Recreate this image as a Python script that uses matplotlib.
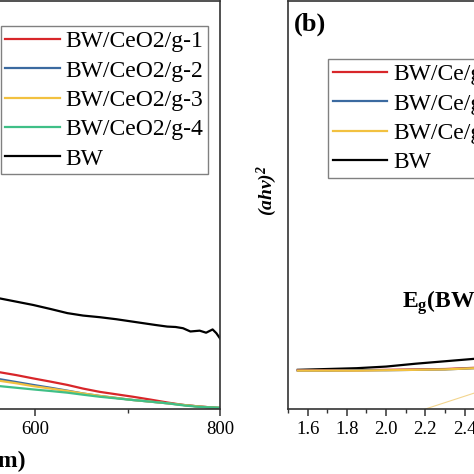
import matplotlib
matplotlib.use('Agg')
import matplotlib.pyplot as plt
from matplotlib.ticker import MultipleLocator, NullLocator

plt.rcParams['font.family'] = ['Liberation Serif', 'DejaVu Serif']
plt.rcParams['mathtext.fontset'] = 'custom'
plt.rcParams['mathtext.rm'] = 'Liberation Serif'
plt.rcParams['mathtext.it'] = 'Liberation Serif:italic'
plt.rcParams['mathtext.bf'] = 'Liberation Serif:bold'
plt.rcParams['mathtext.bfit'] = 'Liberation Serif:italic:bold'

# (a) UV-vis absorbance, only the 550-800 nm tail is in view
wl_bw = [550, 562, 580, 598, 617, 635, 652, 670, 688, 706, 730, 743,
         752, 760, 768, 778, 785, 792, 796, 800]
abs_bw = [0.276, 0.271, 0.263, 0.255, 0.245, 0.235, 0.229, 0.225, 0.220,
          0.214, 0.206, 0.202, 0.201, 0.198, 0.190, 0.192, 0.187, 0.195,
          0.186, 0.173]
wl_c = [550, 562, 580, 598, 617, 635, 652, 670, 688, 706, 725, 743, 760,
        778, 790, 800]
abs_g1 = [0.095, 0.090, 0.083, 0.075, 0.067, 0.059, 0.050, 0.042, 0.036,
          0.030, 0.023, 0.016, 0.010, 0.006, 0.004, 0.002]
abs_g2 = [0.078, 0.073, 0.066, 0.059, 0.052, 0.045, 0.038, 0.032, 0.027,
          0.022, 0.018, 0.014, 0.010, 0.006, 0.004, 0.003]
abs_g3 = [0.074, 0.069, 0.063, 0.056, 0.050, 0.044, 0.038, 0.032, 0.027,
          0.022, 0.018, 0.014, 0.010, 0.006, 0.004, 0.003]
abs_g4 = [0.059, 0.056, 0.052, 0.048, 0.044, 0.040, 0.035, 0.030, 0.026,
          0.022, 0.018, 0.014, 0.009, 0.005, 0.004, 0.003]

# (b) Tauc plot
ev = [1.55, 1.70, 1.85, 2.00, 2.15, 2.30, 2.45, 2.50]
tauc_bw = [0.096, 0.098, 0.100, 0.104, 0.111, 0.117, 0.123, 0.126]
tauc_g1 = [0.095, 0.095, 0.095, 0.096, 0.097, 0.098, 0.101, 0.103]
tauc_g2 = [0.094, 0.094, 0.095, 0.095, 0.096, 0.097, 0.100, 0.102]
tauc_g3 = [0.094, 0.094, 0.094, 0.095, 0.096, 0.097, 0.100, 0.102]
fit_ev = [2.20, 2.50]
fit_y = [0.0, 0.047]

red = '#d8262a'
blue = '#3b6aa0'
yellow = '#f2c140'
green = '#3fbf87'
spine_c = '#333333'

W = H = 474
fig = plt.figure(figsize=(4.74, 4.74), dpi=100)

def px_axes(x0, x1, y_top, y_bot):
    return fig.add_axes([x0 / W, 1 - y_bot / H, (x1 - x0) / W, (y_bot - y_top) / H])

ax1 = px_axes(-335, 220, 1, 409)
ax2 = px_axes(288, 288 + 3 * 196.25, 1, 409)

ax1.plot(wl_c, abs_g1, color=red, lw=1.6, label='BW/CeO2/g-1')
ax1.plot(wl_c, abs_g2, color=blue, lw=1.6, label='BW/CeO2/g-2')
ax1.plot(wl_c, abs_g3, color=yellow, lw=1.6, label='BW/CeO2/g-3')
ax1.plot(wl_c, abs_g4, color=green, lw=1.6, label='BW/CeO2/g-4')
ax1.plot(wl_bw, abs_bw, color='black', lw=1.6, label='BW')
ax1.set_xlim(200, 800)
ax1.set_ylim(0, 1)
ax1.xaxis.set_major_locator(MultipleLocator(200))
ax1.xaxis.set_minor_locator(MultipleLocator(100))
ax1.yaxis.set_major_locator(NullLocator())
ax1.set_xlabel('Wavelength (nm)', fontsize=17, fontweight='bold', labelpad=9)
ax1.xaxis.label.set_x(0.4928)

ax2.plot(ev, tauc_bw, color='black', lw=1.6, label='BW')
ax2.plot(ev, tauc_g1, color=red, lw=1.6, label='BW/Ce/g-1')
ax2.plot(ev, tauc_g2, color=blue, lw=1.6, label='BW/Ce/g-2')
ax2.plot(ev, tauc_g3, color=yellow, lw=1.6, label='BW/Ce/g-3')
ax2.plot(fit_ev, fit_y, color='#f3d58e', lw=0.8)
ax2.set_xlim(1.5, 4.5)
ax2.set_ylim(0, 1)
ax2.xaxis.set_major_locator(MultipleLocator(0.2))
ax2.xaxis.set_minor_locator(MultipleLocator(0.1))
ax2.xaxis.set_major_formatter(plt.FormatStrFormatter('%.1f'))
ax2.yaxis.set_major_locator(NullLocator())
ax2.set_xlabel('Photon energy (eV)', fontsize=17, fontweight='bold', labelpad=9)

for ax in (ax1, ax2):
    for s in ax.spines.values():
        s.set_linewidth(1.2)
        s.set_color(spine_c)
    ax.tick_params(axis='x', which='major', direction='out', length=5, width=1.1,
                   labelsize=13.5, color=spine_c, pad=4)
    ax.tick_params(axis='x', which='minor', direction='out', length=3, width=1.0,
                   color=spine_c)

leg_kw = dict(fontsize=17, loc='upper left', frameon=True, fancybox=False,
              edgecolor='#808080', framealpha=1, handlelength=2.3,
              handletextpad=0.25, labelspacing=0.33, borderpad=0.2,
              borderaxespad=0)
leg1 = ax1.legend(bbox_to_anchor=(0.5 / W, 1 - 26 / H),
                  bbox_transform=fig.transFigure, **leg_kw)
h, l = ax2.get_legend_handles_labels()
order = [1, 2, 3, 0]
leg2 = ax2.legend([h[i] for i in order], [l[i] for i in order],
                  bbox_to_anchor=(328 / W, 1 - 59 / H),
                  bbox_transform=fig.transFigure, **leg_kw)
for leg in (leg1, leg2):
    leg.get_frame().set_linewidth(1.0)

fig.text(294 / W, 1 - 24 / H, '(b)', fontsize=19, fontweight='bold',
         ha='left', va='center')
fig.text(267 / W, 1 - 191 / H, r'$\mathbfit{(ahv)^2}$', fontsize=14,
         rotation=90, ha='center', va='center')
ax2.text(402 / W, 1 - 303 / H, r'E$_\mathbf{g}$(BW/Ce/g-3)', fontsize=17,
         fontweight='bold', ha='left', va='center', transform=fig.transFigure)

fig.savefig('out.png', dpi=100)
